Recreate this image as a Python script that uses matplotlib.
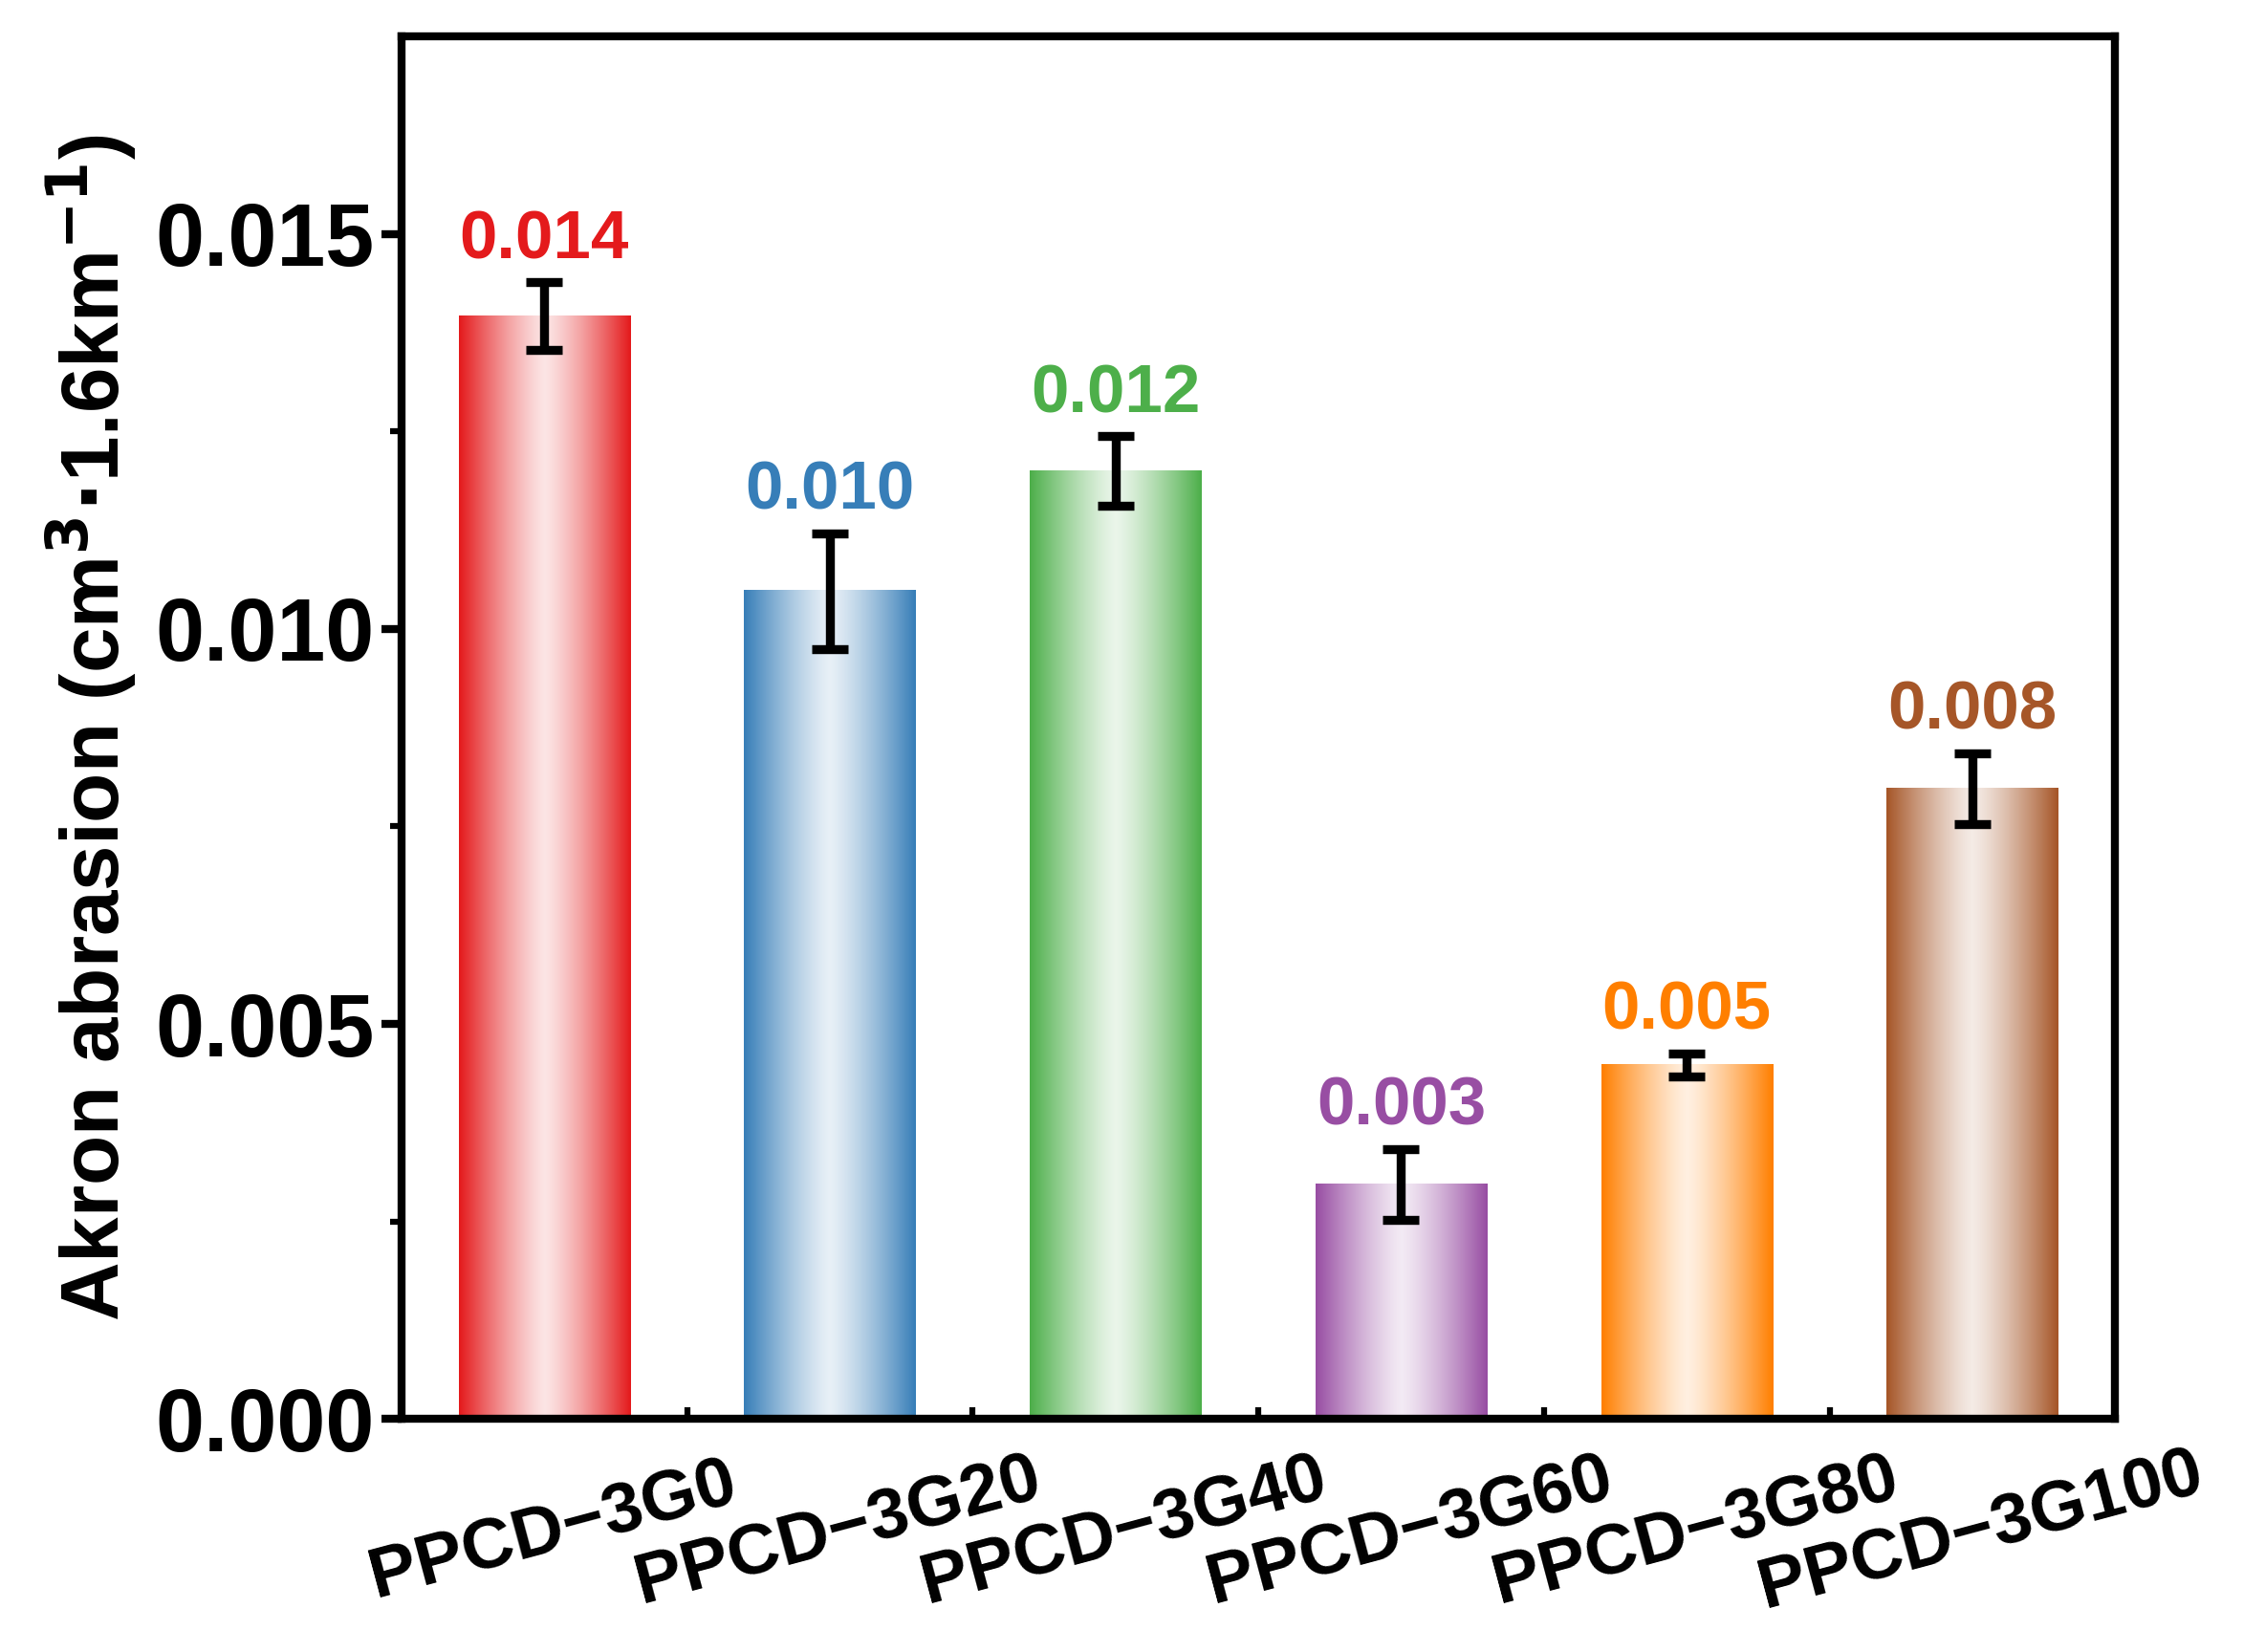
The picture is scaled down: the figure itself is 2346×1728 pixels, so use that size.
import numpy as np
import matplotlib.pyplot as plt
from matplotlib.colors import LinearSegmentedColormap

plt.rcParams['font.family'] = ['Liberation Sans', 'DejaVu Sans']
plt.rcParams['font.weight'] = 'bold'

samples = ["PPCD\u22123G0", "PPCD\u22123G20", "PPCD\u22123G40",
           "PPCD\u22123G60", "PPCD\u22123G80", "PPCD\u22123G100"]
values = [0.01396, 0.01048, 0.0120, 0.00297, 0.00448, 0.00798]
errors = [0.00043, 0.00073, 0.00044, 0.00045, 0.00015, 0.00045]
labels = ["0.014", "0.010", "0.012", "0.003", "0.005", "0.008"]
colors = ["#e41a1c", "#377eb8", "#4daf4a", "#984ea3", "#ff7f00", "#a65628"]

fig = plt.figure(figsize=(15.64, 11.52), dpi=150)
ax = fig.add_axes([0.179, 0.141, 0.764, 0.837])

width = 0.6
grad = np.abs(np.linspace(-1, 1, 200))[None, :]
for i, (v, e, c) in enumerate(zip(values, errors, colors)):
    cmap = LinearSegmentedColormap.from_list("g", ["#ffffff", c])
    ax.imshow(grad ** 1.3 * 0.88 + 0.12, cmap=cmap, vmin=0, vmax=1, aspect="auto",
              extent=[i - width / 2, i + width / 2, 0, v], zorder=2)
    ax.errorbar(i, v, yerr=e, fmt="none", ecolor="black", elinewidth=4.5,
                capsize=9, capthick=4.5, zorder=4)
    ax.text(i, v + e + 0.00012, labels[i], color=c, ha="center", va="bottom",
            fontsize=34, fontweight="bold")

ax.set_xlim(-0.5, 5.5)
ax.set_ylim(0, 0.0175)
ax.set_xticks(range(len(samples)))
ax.set_xticklabels(samples, rotation=15, ha="center", rotation_mode="anchor",
                   fontsize=36, fontweight="bold")
ax.set_xticks(np.arange(0.5, 5.5, 1), minor=True)
ax.set_yticks([0, 0.005, 0.010, 0.015])
ax.set_yticklabels(["0.000", "0.005", "0.010", "0.015"], fontsize=44, fontweight="bold")
ax.set_yticks(np.arange(0.0025, 0.0175, 0.005), minor=True)
ax.tick_params(axis="x", which="major", direction="in", length=10, width=4,
               color="#707070", pad=40)
ax.tick_params(axis="x", which="minor", direction="in", length=6, width=3)
ax.tick_params(axis="y", which="major", direction="out", length=10, width=4)
ax.tick_params(axis="y", which="minor", direction="out", length=6, width=3)
for s in ax.spines.values():
    s.set_linewidth(4)
ax.set_ylabel("Akron abrasion (cm$^{\\mathbf{3}}$$\\cdot$1.6km$^{\\mathbf{-1}}$)",
              fontsize=41, fontweight="bold", labelpad=8)

fig.savefig("out.png", dpi=150)
